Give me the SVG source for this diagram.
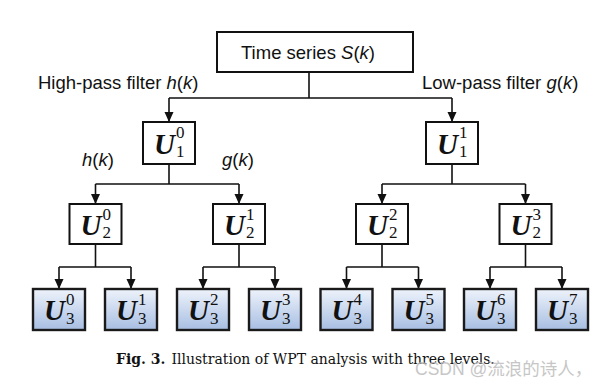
<svg xmlns="http://www.w3.org/2000/svg" width="615" height="386" viewBox="0 0 615 386">
<style>
.box{fill:#fff;stroke:#111;stroke-width:2}
.leaf{fill:url(#lg);stroke:#1a1a1a;stroke-width:2.4}
.con{fill:none;stroke:#111;stroke-width:1.6}
.lbl{font-family:"Liberation Sans",Arial,sans-serif;font-size:18.5px;fill:#111}
.it{font-style:italic}
.U{font-family:"Liberation Serif","Times New Roman",serif;font-size:29px;font-weight:bold;font-style:italic;fill:#111}
.s{font-family:"Liberation Serif","Times New Roman",serif;font-size:17px;fill:#111}
.cap{font-family:"DejaVu Serif","Liberation Serif",serif;font-size:14px;fill:#111}
.wm{font-family:"Liberation Sans","Noto Sans CJK SC",sans-serif;font-size:17.5px;fill:#bdbdbd;opacity:0.85}
</style>
<defs>
<linearGradient id="lg" x1="0" y1="0" x2="0" y2="1">
<stop offset="0" stop-color="#eef3fb"/>
<stop offset="1" stop-color="#a7bee2"/>
</linearGradient>
<marker id="ah" viewBox="0 0 10 10" refX="10" refY="5" markerWidth="10" markerHeight="10" markerUnits="userSpaceOnUse" orient="auto">
<path d="M0,0.5 L10,5 L0,9.5 z" fill="#111"/>
</marker>
</defs>

<g id="connectors">
<path class="con" d="M309,72 V98 M169,98 H452"/>
<path class="con" marker-end="url(#ah)" d="M169,98 V122"/>
<path class="con" marker-end="url(#ah)" d="M452,98 V122"/>
<path class="con" d="M169,164 V184 M95.5,184 H239"/>
<path class="con" marker-end="url(#ah)" d="M95.5,184 V204"/>
<path class="con" marker-end="url(#ah)" d="M239,184 V204"/>
<path class="con" d="M452,164 V184 M382,184 H525.5"/>
<path class="con" marker-end="url(#ah)" d="M382,184 V204"/>
<path class="con" marker-end="url(#ah)" d="M525.5,184 V204"/>
<path class="con" d="M95.5,244 V267 M59,267 H131"/>
<path class="con" marker-end="url(#ah)" d="M59,267 V289"/>
<path class="con" marker-end="url(#ah)" d="M131,267 V289"/>
<path class="con" d="M239,244 V267 M203,267 H275"/>
<path class="con" marker-end="url(#ah)" d="M203,267 V289"/>
<path class="con" marker-end="url(#ah)" d="M275,267 V289"/>
<path class="con" d="M382,244 V267 M346.5,267 H418.5"/>
<path class="con" marker-end="url(#ah)" d="M346.5,267 V289"/>
<path class="con" marker-end="url(#ah)" d="M418.5,267 V289"/>
<path class="con" d="M525.5,244 V267 M490,267 H562"/>
<path class="con" marker-end="url(#ah)" d="M490,267 V289"/>
<path class="con" marker-end="url(#ah)" d="M562,267 V289"/>
</g>

<g id="labels">
<text class="lbl" x="38" y="89">High-pass filter <tspan class="it">h</tspan>(<tspan class="it">k</tspan>)</text>
<text class="lbl" x="422" y="89">Low-pass filter <tspan class="it">g</tspan>(<tspan class="it">k</tspan>)</text>
<text class="lbl" x="82" y="166"><tspan class="it">h</tspan>(<tspan class="it">k</tspan>)</text>
<text class="lbl" x="222" y="166"><tspan class="it">g</tspan>(<tspan class="it">k</tspan>)</text>
</g>

<g id="root">
<rect class="box" x="217" y="32" width="196" height="40"/>
<text class="lbl" x="241" y="59">Time series <tspan class="it">S</tspan>(<tspan class="it">k</tspan>)</text>
</g>

<g id="U1_0"><rect class="box" x="143" y="122" width="52" height="42"/>
<text class="U" x="154" y="154">U</text><text class="s" x="176" y="138">0</text><text class="s" x="176" y="157">1</text></g>
<g id="U1_1"><rect class="box" x="426" y="122" width="52" height="42"/>
<text class="U" x="437" y="154">U</text><text class="s" x="459" y="138">1</text><text class="s" x="459" y="157">1</text></g>

<g id="U2_0"><rect class="box" x="69.5" y="204" width="52" height="40"/>
<text class="U" x="80.5" y="235">U</text><text class="s" x="102.5" y="220">0</text><text class="s" x="102.5" y="238">2</text></g>
<g id="U2_1"><rect class="box" x="213" y="204" width="52" height="40"/>
<text class="U" x="224" y="235">U</text><text class="s" x="246" y="220">1</text><text class="s" x="246" y="238">2</text></g>
<g id="U2_2"><rect class="box" x="356" y="204" width="52" height="40"/>
<text class="U" x="367" y="235">U</text><text class="s" x="389" y="220">2</text><text class="s" x="389" y="238">2</text></g>
<g id="U2_3"><rect class="box" x="499.5" y="204" width="52" height="40"/>
<text class="U" x="510.5" y="235">U</text><text class="s" x="532.5" y="220">3</text><text class="s" x="532.5" y="238">2</text></g>

<g id="U3_0"><rect class="leaf" x="33" y="289" width="52" height="41"/>
<text class="U" x="44" y="320">U</text><text class="s" x="66" y="305">0</text><text class="s" x="66" y="324">3</text></g>
<g id="U3_1"><rect class="leaf" x="105" y="289" width="52" height="41"/>
<text class="U" x="116" y="320">U</text><text class="s" x="138" y="305">1</text><text class="s" x="138" y="324">3</text></g>
<g id="U3_2"><rect class="leaf" x="177" y="289" width="52" height="41"/>
<text class="U" x="188" y="320">U</text><text class="s" x="210" y="305">2</text><text class="s" x="210" y="324">3</text></g>
<g id="U3_3"><rect class="leaf" x="249" y="289" width="52" height="41"/>
<text class="U" x="260" y="320">U</text><text class="s" x="282" y="305">3</text><text class="s" x="282" y="324">3</text></g>
<g id="U3_4"><rect class="leaf" x="320.5" y="289" width="52" height="41"/>
<text class="U" x="331.5" y="320">U</text><text class="s" x="353.5" y="305">4</text><text class="s" x="353.5" y="324">3</text></g>
<g id="U3_5"><rect class="leaf" x="392.5" y="289" width="52" height="41"/>
<text class="U" x="403.5" y="320">U</text><text class="s" x="425.5" y="305">5</text><text class="s" x="425.5" y="324">3</text></g>
<g id="U3_6"><rect class="leaf" x="464" y="289" width="52" height="41"/>
<text class="U" x="475" y="320">U</text><text class="s" x="497" y="305">6</text><text class="s" x="497" y="324">3</text></g>
<g id="U3_7"><rect class="leaf" x="536" y="289" width="52" height="41"/>
<text class="U" x="547" y="320">U</text><text class="s" x="569" y="305">7</text><text class="s" x="569" y="324">3</text></g>

<g id="caption">
<text class="cap" x="116" y="364"><tspan font-weight="bold">Fig. 3.</tspan><tspan dx="6">Illustration of WPT analysis with three levels.</tspan></text>
<text class="wm" x="415" y="375">CSDN @流浪的诗人，</text>
</g>
</svg>
